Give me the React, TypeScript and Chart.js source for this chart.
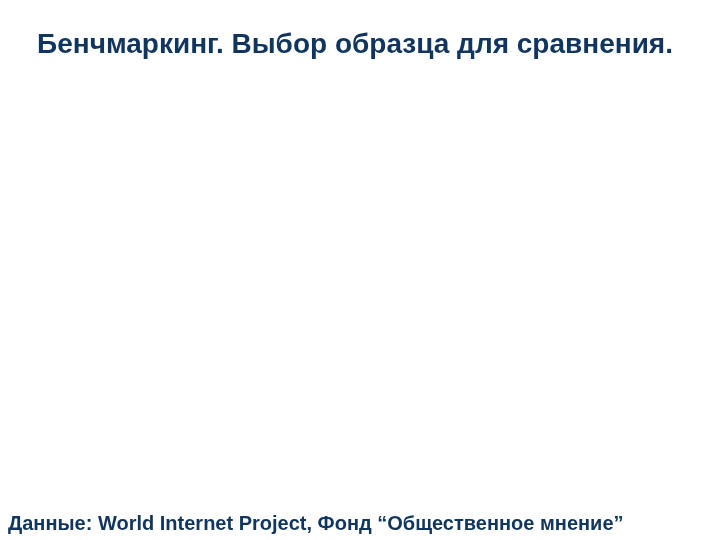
import { useEffect, useRef } from 'react';
import { Chart, registerables } from 'chart.js';

Chart.register(...registerables);

// the slide shows no plotted data, only the heading and the source line
const categories: string[] = [];
const values: number[] = [];

const TITLE = 'Бенчмаркинг. Выбор образца для сравнения.';
const SOURCE = 'Данные: World Internet Project, Фонд “Общественное мнение”';
const NAVY = '#10355f';

export default function App() {
  const canvasRef = useRef<HTMLCanvasElement>(null);
  const chartRef = useRef<Chart | null>(null);

  useEffect(() => {
    if (!canvasRef.current) return;
    if (chartRef.current) chartRef.current.destroy();

    chartRef.current = new Chart(canvasRef.current, {
      type: 'bar',
      data: {
        labels: categories,
        datasets: [{ label: '', data: values, backgroundColor: NAVY }],
      },
      options: {
        animation: false,
        responsive: true,
        maintainAspectRatio: false,
        layout: { padding: { left: 8, right: 18, top: 0, bottom: 0 } },
        plugins: {
          legend: { display: false },
          tooltip: { enabled: false },
          title: {
            display: true,
            text: TITLE,
            color: NAVY,
            font: { family: 'Liberation Sans', size: 28, weight: 'bold', lineHeight: 1.2 },
            padding: { top: 28, bottom: 0 },
          },
          subtitle: {
            display: true,
            text: SOURCE,
            position: 'bottom',
            align: 'start',
            color: NAVY,
            font: { family: 'Liberation Sans', size: 20, weight: 'bold', lineHeight: 1.2 },
            padding: { top: 0, bottom: 4 },
          },
        },
        scales: {
          x: { display: false },
          y: { display: false },
        },
      },
    });

    return () => { chartRef.current?.destroy(); };
  }, []);

  return (
    <div style={{ position: 'fixed', left: 0, top: 0, width: 720, height: 540, background: '#fff' }}>
      <canvas ref={canvasRef} />
    </div>
  );
}
